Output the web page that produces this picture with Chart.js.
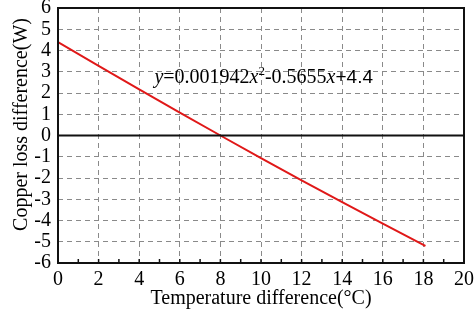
<!DOCTYPE html>
<html><head><meta charset="utf-8">
<script src="https://cdn.jsdelivr.net/npm/chart.js@4/dist/chart.umd.min.js"></script>
<style>html,body{margin:0;padding:0;background:#fff}#w{width:474px;height:333px}</style>
</head><body><div id="w"><canvas id="c" width="474" height="333"></canvas></div>
<script>
const tempDiff = [0, 2, 4, 6, 8, 10, 12, 14, 16, 18, 18.1];
const lossDiff = [4.4, 3.28, 2.17, 1.08, 0.0, -1.07, -2.11, -3.14, -4.15, -5.15, -5.2];
const xTicks = [0, 2, 4, 6, 8, 10, 12, 14, 16, 18, 20];
const yTicks = [-6, -5, -4, -3, -2, -1, 0, 1, 2, 3, 4, 5, 6];
const xTitle = 'Temperature difference(\u00B0C)';
const yTitle = 'Copper loss difference(W)';
const eqnParts = [
  {t:'y', s:'italic'}, {t:'=0.001942', s:''}, {t:'x', s:'italic'}, {t:'2', s:'sup'},
  {t:'-0.5655', s:''}, {t:'x', s:'italic'}, {t:'+4.4', s:'sans'}
];
const eqnAt = {x: 4.75, y: 2.45};

const serif = '"Liberation Serif", "Times New Roman", serif';

const framePlugin = {
  id: 'frame',
  afterDraw(chart) {
    const ctx = chart.ctx, xs = chart.scales.x, ys = chart.scales.y;
    const l = xs.getPixelForValue(xTicks[0]), r = xs.getPixelForValue(xTicks[xTicks.length-1]);
    const t = ys.getPixelForValue(yTicks[yTicks.length-1]), b = ys.getPixelForValue(yTicks[0]);
    ctx.save();
    ctx.strokeStyle = '#111'; ctx.lineWidth = 2;
    ctx.strokeRect(l, t, r - l, b - t);
    const z = ys.getPixelForValue(0);
    ctx.beginPath(); ctx.moveTo(l, z); ctx.lineTo(r, z); ctx.stroke();
    ctx.lineWidth = 1.5;
    for (let v = 1; v < 20; v++) {
      const px = xs.getPixelForValue(v);
      ctx.beginPath(); ctx.moveTo(px, b); ctx.lineTo(px, b - 4); ctx.stroke();
    }
    // equation
    let x = xs.getPixelForValue(eqnAt.x), y = ys.getPixelForValue(eqnAt.y);
    ctx.fillStyle = '#000'; ctx.textBaseline = 'alphabetic'; ctx.textAlign = 'left';
    for (const p of eqnParts) {
      let yy = y;
      if (p.s === 'italic') ctx.font = 'italic 20px ' + serif;
      else if (p.s === 'sup') { ctx.font = '13px ' + serif; yy = y - 8; }
      else if (p.s === 'sans') ctx.font = '19px "Liberation Sans", Arial, sans-serif';
      else ctx.font = '20px ' + serif;
      ctx.fillText(p.t, x, yy);
      x += ctx.measureText(p.t).width;
    }
    ctx.restore();
  }
};

new Chart(document.getElementById('c'), {
  type: 'scatter',
  data: {
    datasets: [{
      data: tempDiff.map((v, i) => ({x: v, y: lossDiff[i]})),
      showLine: true, borderColor: '#e01818', borderWidth: 2,
      pointRadius: 0, tension: 0, fill: false
    }]
  },
  options: {
    responsive: false, animation: false,
    layout: {padding: {left: 0, right: 10, top: 8, bottom: 22}},
    plugins: {legend: {display: false}, tooltip: {enabled: false}},
    scales: {
      x: {
        type: 'linear', min: 0, max: 20,
        afterBuildTicks(s) { s.ticks = xTicks.map(v => ({value: v})); },
        afterFit(s) { s.height = 48; s.paddingLeft = 0; s.paddingRight = 0; },
        grid: {
          color: c => (c.tick && (c.tick.value === 0 || c.tick.value === 20)) ? 'rgba(0,0,0,0)' : '#8a8a8a',
          lineWidth: 1, drawTicks: false
        },
        border: {display: false, dash: [5, 4]},
        ticks: {color: '#000', font: {family: serif, size: 20}, padding: 5, maxRotation: 0, autoSkip: false},
        title: {display: true, text: xTitle, color: '#000', font: {family: serif, size: 20}, padding: {top: 0, bottom: 0}}
      },
      y: {
        type: 'linear', min: -6, max: 6,
        afterBuildTicks(s) { s.ticks = yTicks.map(v => ({value: v})); },
        afterFit(s) {
          s.width = 58; s.paddingTop = 0; s.paddingBottom = 0;
          if (!s._titleShifted) {
            const orig = s.drawTitle;
            s.drawTitle = function () {
              const ctx = this.ctx; ctx.save(); ctx.translate(0, -11);
              orig.apply(this, arguments); ctx.restore();
            };
            s._titleShifted = true;
          }
        },
        grid: {
          color: c => (c.tick && (Math.abs(c.tick.value) === 6 || c.tick.value === 0)) ? 'rgba(0,0,0,0)' : '#8a8a8a',
          lineWidth: 1, drawTicks: false
        },
        border: {display: false, dash: [5, 4]},
        ticks: {color: '#000', font: {family: serif, size: 20}, padding: 7, autoSkip: false},
        title: {display: true, text: yTitle, color: '#000', font: {family: serif, size: 20}, padding: {top: 10, bottom: 0}}
      }
    }
  },
  plugins: [framePlugin]
});
</script></body></html>
